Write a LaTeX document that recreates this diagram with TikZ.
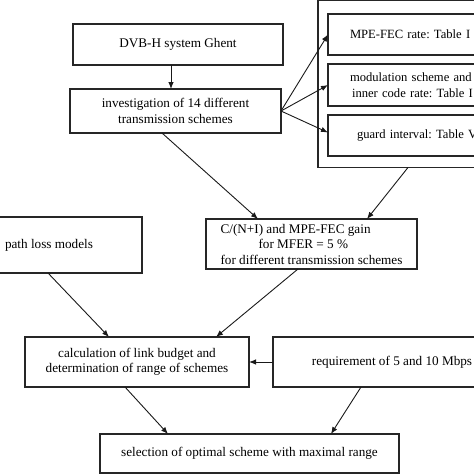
\documentclass[tikz,border=0pt]{standalone}
\usepackage{fontspec}
\setmainfont{Liberation Serif}
\usetikzlibrary{arrows.meta}
\newcommand{\fs}{\fontsize{13.2}{15.5}\selectfont\frenchspacing}
\newcommand{\fscut}{\fontsize{12.6}{15.5}\selectfont\frenchspacing}

\tikzset{
    box/.style={draw=black!85, line width=1.1pt, outer sep=0pt, inner sep=2pt, font=\fs, align=center},
    cutbox/.style={box, anchor=west, align=left, text width=150pt, minimum height=41pt, font=\fscut},
    arr/.style={-{Latex[length=7pt,width=5.5pt]}, line width=0.9pt, draw=black!90},
}

\begin{document}
\begin{tikzpicture}[x=1pt, y=-1pt]
    \path[use as bounding box, clip] (0, 0) rectangle (474, 474);
    % left column
    \node[box, minimum width=210pt, minimum height=41pt] (dvb) at (178, 44.5) {DVB-H system Ghent};
    \node[box, minimum width=211pt, minimum height=44pt] (inv) at (175.5, 111) {investigation of 14 different\\ transmission schemes};
    % table frame on the right
    \node[box, anchor=north west, minimum width=200pt, minimum height=167pt] (frame) at (318, 0.5) {};
    \node[cutbox, inner xsep=22pt] (mpe) at (328, 34.5) {MPE-FEC rate: Table I};
    \node[cutbox, inner xsep=22pt, minimum height=42pt] (mod) at (328, 85) {modulation scheme and\\\hspace*{2pt}inner code rate: Table I};
    \node[cutbox, inner xsep=29pt] (gi) at (328, 135.5) {guard interval: Table V};
    % middle row
    \node[box, minimum width=211pt, minimum height=50pt, align=left] (cn) at (311.5, 244) {C/(N+I) and MPE-FEC gain\\\hspace*{38pt}for MFER = 5 \%\\for different transmission schemes};
    \node[box, minimum width=186pt, minimum height=56pt] (pl) at (49, 245) {path loss models};
    % lower rows
    \node[box, minimum width=224pt, minimum height=50pt] (link) at (137, 362) {calculation of link budget and\\ determination of range of schemes};
    \node[box, minimum width=238pt, minimum height=50pt] (req) at (392, 362) {requirement of 5 and 10 Mbps};
    \node[box, minimum width=299pt, minimum height=39pt] (sel) at (249.5, 453.5) {selection of optimal scheme with maximal range};

    \draw[arr] ([xshift=-7pt]dvb.south) -- ([xshift=-7pt]dvb.south |- inv.north);
    \draw[arr] (inv.east) -- (mpe.west);
    \draw[arr] (inv.east) -- (mod.west);
    \draw[arr] (inv.east) -- ([yshift=3pt]gi.west);
    \draw[arr] ([xshift=-13.5pt]inv.south) -- ([xshift=-53.5pt]cn.north);
    \draw[arr] ([xshift=-10pt]frame.south) -- ([xshift=55.5pt]cn.north);
    \draw[arr] ([xshift=-1pt]pl.south) -- ([xshift=-28pt]link.north);
    \draw[arr] ([xshift=-13.5pt]cn.south) -- ([xshift=79pt]link.north);
    \draw[arr] (req.west) -- (link.east);
    \draw[arr] ([xshift=-12pt]link.south) -- ([xshift=-81.5pt]sel.north);
    \draw[arr] ([xshift=-31pt]req.south) -- ([xshift=81.5pt]sel.north);
\end{tikzpicture}
\end{document}
